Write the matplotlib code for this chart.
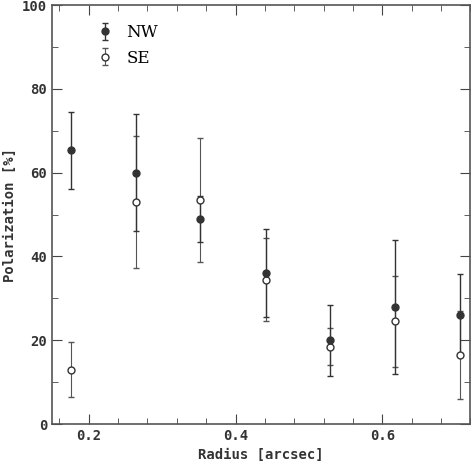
import matplotlib
matplotlib.use("Agg")
import matplotlib.pyplot as plt
from matplotlib.ticker import MultipleLocator

radius = [0.1755, 0.264, 0.352, 0.441, 0.529, 0.618, 0.706]
nw = [65.3, 60.0, 49.0, 36.0, 20.0, 28.0, 26.0]
nw_err = [9.2, 14.0, 5.5, 10.5, 8.5, 16.0, 9.8]
se = [13.0, 53.0, 53.5, 34.5, 18.5, 24.5, 16.5]
se_err = [6.5, 15.7, 14.7, 10.0, 4.5, 10.8, 10.5]

fig = plt.figure(figsize=(4.74, 4.67), dpi=100)
ax = fig.add_axes([0.110, 0.092, 0.882, 0.897])
ax.errorbar(radius, se, yerr=se_err, fmt='o', mfc='white', mec='#333333', color='#555555',
            ms=5, capsize=2, elinewidth=0.8, label='SE')
ax.errorbar(radius, nw, yerr=nw_err, fmt='o', color='#333333', ms=5, capsize=2,
            elinewidth=1.0, label='NW')
ax.set_xlim(0.15, 0.72)
ax.set_ylim(0, 100)
ax.xaxis.set_major_locator(MultipleLocator(0.2))
ax.xaxis.set_minor_locator(MultipleLocator(0.04))
ax.yaxis.set_major_locator(MultipleLocator(20))
ax.yaxis.set_minor_locator(MultipleLocator(10))
ax.tick_params(which='both', direction='in', top=True, right=True, color='#444444')
ax.tick_params(which='major', length=7)
ax.tick_params(which='minor', length=4)
ax.set_xticks([0.2, 0.4, 0.6])
ax.set_xticklabels(['0.2', '0.4', '0.6'])
for lab in ax.get_xticklabels() + ax.get_yticklabels():
    lab.set_family('DejaVu Sans Mono'); lab.set_fontsize(10); lab.set_weight('bold'); lab.set_color('#333333')
for s in ax.spines.values():
    s.set_color('#555555'); s.set_linewidth(1.2)
ax.set_xlabel('Radius [arcsec]', family='DejaVu Sans Mono', fontsize=10, weight='bold', color='#333333')
ax.set_ylabel('Polarization [%]', family='DejaVu Sans Mono', fontsize=10, weight='bold', color='#333333')
h, l = ax.get_legend_handles_labels()
leg = ax.legend(h[::-1], l[::-1], loc='upper left', bbox_to_anchor=(0.07, 0.99), frameon=False,
                prop={'family': 'DejaVu Serif', 'size': 12}, handletextpad=0.8, handlelength=1)
fig.savefig('out.png')
